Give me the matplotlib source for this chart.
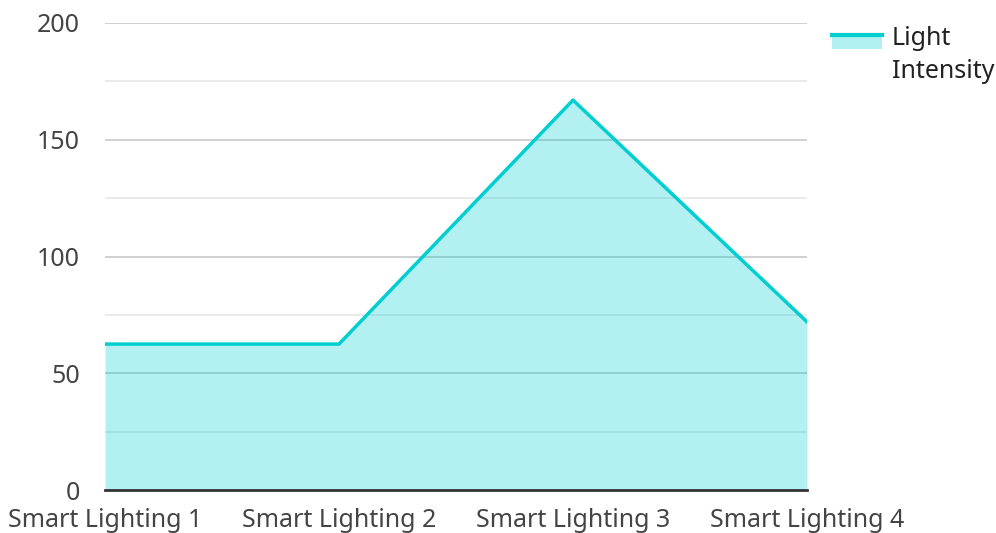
import matplotlib
matplotlib.use("Agg")
import matplotlib.pyplot as plt
from matplotlib.patches import Rectangle
from matplotlib.lines import Line2D
from matplotlib.legend_handler import HandlerBase

categories = ["Smart Lighting 1", "Smart Lighting 2", "Smart Lighting 3", "Smart Lighting 4"]
light_intensity = [62.5, 62.5, 167, 72]
y_ticks = [0, 50, 100, 150, 200]
series_name = "Light\nIntensity"

plt.rcParams['font.family'] = ['Noto Sans', 'DejaVu Sans']

fig = plt.figure(figsize=(9.96, 5.33), dpi=100)
ax = fig.add_axes([105/996, 1-490/533, 702/996, 467/533])

x = list(range(len(categories)))
line_color = "#00CED1"
ax.fill_between(x, light_intensity, 0, color=line_color, alpha=0.3, linewidth=0, zorder=2)
ax.plot(x, light_intensity, color=line_color, linewidth=2.5, zorder=3)

ax.set_xlim(0, 3)
ax.set_ylim(0, 200)
ax.set_yticks(y_ticks)
ax.set_yticks([25, 75, 125, 175], minor=True)
ax.set_xticks(x)
ax.set_xticklabels(categories)
ax.set_axisbelow(True)
ax.grid(axis='y', which='major', color='#c8c8c8', linewidth=1.2)
ax.grid(axis='y', which='minor', color='#e6e6e6', linewidth=1.2)
for s in ['left', 'right', 'top']:
    ax.spines[s].set_visible(False)
ax.spines['bottom'].set_color('#333333')
ax.spines['bottom'].set_linewidth(2)
ax.spines['bottom'].set_zorder(4)
ax.tick_params(axis='both', which='both', length=0, labelsize=18, labelcolor='#444444')
ax.tick_params(axis='y', pad=18)
ax.tick_params(axis='x', pad=13)


class AreaHandler(HandlerBase):
    def create_artists(self, legend, orig_handle, xdescent, ydescent, width, height, fontsize, trans):
        shift = 0.55 * fontsize
        h = 0.56 * fontsize
        y0 = -ydescent + shift + (height - h) / 2
        rect = Rectangle((-xdescent, y0), width, h, facecolor=line_color, alpha=0.3,
                         edgecolor='none', transform=trans)
        ln = Line2D([-xdescent, -xdescent + width], [y0 + h, y0 + h], color=line_color,
                    linewidth=3, transform=trans)
        return [rect, ln]


dummy = Rectangle((0, 0), 1, 1)
leg = fig.legend([dummy], [series_name], loc='upper left', bbox_to_anchor=(822/996, 1-16/533),
                 frameon=False, fontsize=18, handlelength=2.0, handler_map={Rectangle: AreaHandler()},
                 labelcolor='#222222', handletextpad=0.4, borderaxespad=0)
for t in leg.get_texts():
    t.set_linespacing(1.42)

fig.savefig("out.png", dpi=100)
